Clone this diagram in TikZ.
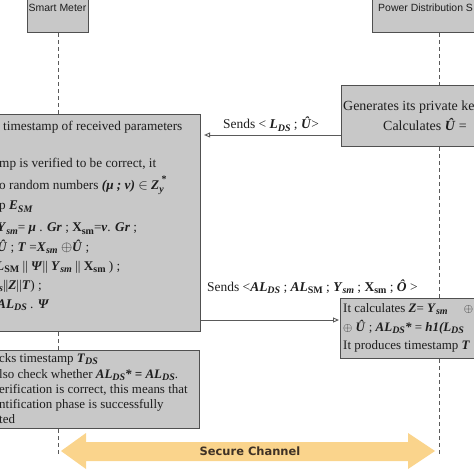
\documentclass[tikz,border=0pt]{standalone}
\usepackage{fontspec}
\setmainfont{Liberation Serif}
\newfontfamily\headfont{Liberation Sans}
\newfontfamily\chanfont{DejaVu Sans}
\usetikzlibrary{arrows.meta}

\definecolor{boxgray}{RGB}{200,200,200}
\definecolor{edgegray}{RGB}{80,80,80}
\definecolor{linegray}{RGB}{90,90,90}
\definecolor{chanorange}{RGB}{250,212,140}
\definecolor{inkgray}{RGB}{30,30,30}

\newcommand{\bi}[1]{\textbf{\textit{#1}}}
\newcommand{\sub}[1]{\raisebox{-0.35ex}{\fontsize{10}{10}\selectfont #1}}

\begin{document}
\begin{tikzpicture}[x=1bp,y=-1bp,
  box/.style={draw=edgegray,line width=1.1bp,fill=boxgray,inner sep=0pt,anchor=north west},
  headtxt/.style={inner sep=0pt,text=inkgray,font=\headfont\fontsize{10.5}{12}\selectfont},
  txt/.style={inner sep=0pt,anchor=base west,text=inkgray,font=\fontsize{13.3}{15}\selectfont},
  lifeline/.style={draw=linegray,line width=0.9bp,dash pattern=on 4bp off 3bp},
  msg/.style={draw=linegray,line width=0.9bp,-{Triangle[open,length=6bp,width=5bp]}}]

\useasboundingbox (0,0) rectangle (474,474);
\clip (0,0) rectangle (474,474);

\coordinate (SMc) at (27,-10);
\coordinate (PDSc) at (372,-10);
\coordinate (G) at (341,85);
\coordinate (V) at (-20,114);
\coordinate (K) at (-20,350);
\coordinate (C) at (340,298);
\coordinate (m1) at (0,135);
\coordinate (m2) at (0,320);
\coordinate (bottom) at (0,456);

% secure channel
\coordinate (A1) at (61,451);
\coordinate (A2) at (86,433);
\coordinate (A3) at (86,442);
\coordinate (A4) at (408,442);
\coordinate (A5) at (408,433);
\coordinate (A6) at (435,451);
\coordinate (A7) at (408,469);
\coordinate (A8) at (408,461);
\coordinate (A9) at (86,461);
\coordinate (A10) at (86,469);

\fill[chanorange] (A1) -- (A2) -- (A3) -- (A4) -- (A5) -- (A6)
  -- (A7) -- (A8) -- (A9) -- (A10) -- cycle;
\node[inner sep=0pt,text=inkgray!80!brown,font=\chanfont\bfseries\fontsize{11.5}{12}\selectfont] (chan) at (250,451) {Secure Channel};

% heads
\node[box,minimum width=61bp,minimum height=42bp] (SM) at (SMc) {};
\node[box,minimum width=134bp,minimum height=42bp] (PDS) at (PDSc) {};
\node[headtxt,anchor=base] (SMt) at (57.5,12) {Smart Meter};
\node[headtxt,anchor=base west] (PDSt) at (378,12) {Power Distribution S};

% boxes
\node[box,minimum width=160bp,minimum height=61bp] (gen) at (G) {};
\node[box,minimum width=220bp,minimum height=217bp] (verify) at (V) {};
\node[box,minimum width=219bp,minimum height=78bp] (check) at (K) {};
\node[box,minimum width=160bp,minimum height=60bp] (calc) at (C) {};

% lifelines
\draw[lifeline] (SM.south) -- (SM.south |- verify.north);
\draw[lifeline] (SM.south |- verify.south) -- (SM.south |- check.north);
\draw[lifeline] (SM.south |- check.south) -- (SM.south |- bottom);
\draw[lifeline] (PDS.south) -- (PDS.south |- gen.north);
\draw[lifeline] (PDS.south |- gen.south) -- (PDS.south |- calc.north);
\draw[lifeline] (PDS.south |- calc.south) -- (PDS.south |- bottom);

% messages
\draw[msg,shorten >=3bp] (gen.west |- m1) -- (verify.east |- m1);
\draw[msg,shorten >=1bp] (verify.east |- m2) -- (calc.west |- m2);
\node[txt,font=\fontsize{13.5}{15}\selectfont] (l1) at (223,129) {Sends < \bi{L}\sub{\bi{DS}} ; \bi{Û}>};
\node[txt,font=\fontsize{13.5}{15}\selectfont] (l2) at (207,291) {Sends <\bi{AL}\sub{\bi{DS}} ; \bi{AL}\sub{\textbf{SM}} ; \bi{Y}\sub{\bi{sm}} ; \textbf{X}\sub{\textbf{sm}} ; \bi{Ô} >};

% box texts
\node[txt,font=\fontsize{14}{15}\selectfont] (g1) at (343,111) {Generates its private ke};
\node[txt,font=\fontsize{14}{15}\selectfont] (g2) at (383,131) {Calculates \bi{Û} =};

\foreach \x/\y/\t [count=\i] in {
  3/131/{timestamp of received parameters},
  -1/168/{mp is verified to be correct, it},
  -1/190/{o random numbers \bi{(μ ; ν)} $\in$ \bi{Z}\sub{\bi{y}}\hspace{-2bp}\raisebox{1.2ex}{\fontsize{10}{10}\selectfont\bfseries *}},
  -1/210/{p \bi{E}\sub{\bi{SM}}},
  -3/232/{\bi{Y}\sub{\bi{sm}}= \bi{μ} . \bi{Gr} ; \textbf{X}\sub{\textbf{sm}}=\bi{ν}. \bi{Gr} ;},
  -3/251/{\bi{Û} ; \bi{T} =\bi{X}\sub{\bi{sm}} $\oplus$\bi{Û} ;},
  -4/270/{\bi{L}\sub{\textbf{SM}} || \bi{Ψ}|| \bi{Y}\sub{\bi{sm}} || \textbf{X}\sub{\textbf{sm}} ) ;},
  -1/289/{\sub{\bi{s}}||\bi{Z}||\bi{T}) ;},
  -3/308/{\bi{AL}\sub{\bi{DS}} . \bi{Ψ}}}
  \node[txt] (v\i) at (\x,\y) {\t};

\foreach \y/\t [count=\i] in {
  362/{cks timestamp \bi{T}\sub{\bi{DS}}},
  378/{lso check whether \bi{AL}\sub{\bi{DS}}\bi{* = AL}\sub{\bi{DS}}.},
  393/{erification is correct, this means that},
  408/{ntification phase is successfully},
  423/{ted}}
  \node[txt,font=\fontsize{13}{15}\selectfont] (k\i) at (-1,\y) {\t};

\foreach \y/\t [count=\i] in {
  312/{It calculates \bi{Z}= \bi{Y}\sub{\bi{sm}} \quad $\oplus$},
  331/{$\oplus$ \bi{Û} ; \bi{AL}\sub{\bi{DS}}\bi{*} = \bi{h1(L}\sub{\bi{DS}}},
  349/{It produces timestamp \bi{T}}}
  \node[txt,font=\fontsize{13}{15}\selectfont] (c\i) at (343,\y) {\t};

\end{tikzpicture}
\end{document}
